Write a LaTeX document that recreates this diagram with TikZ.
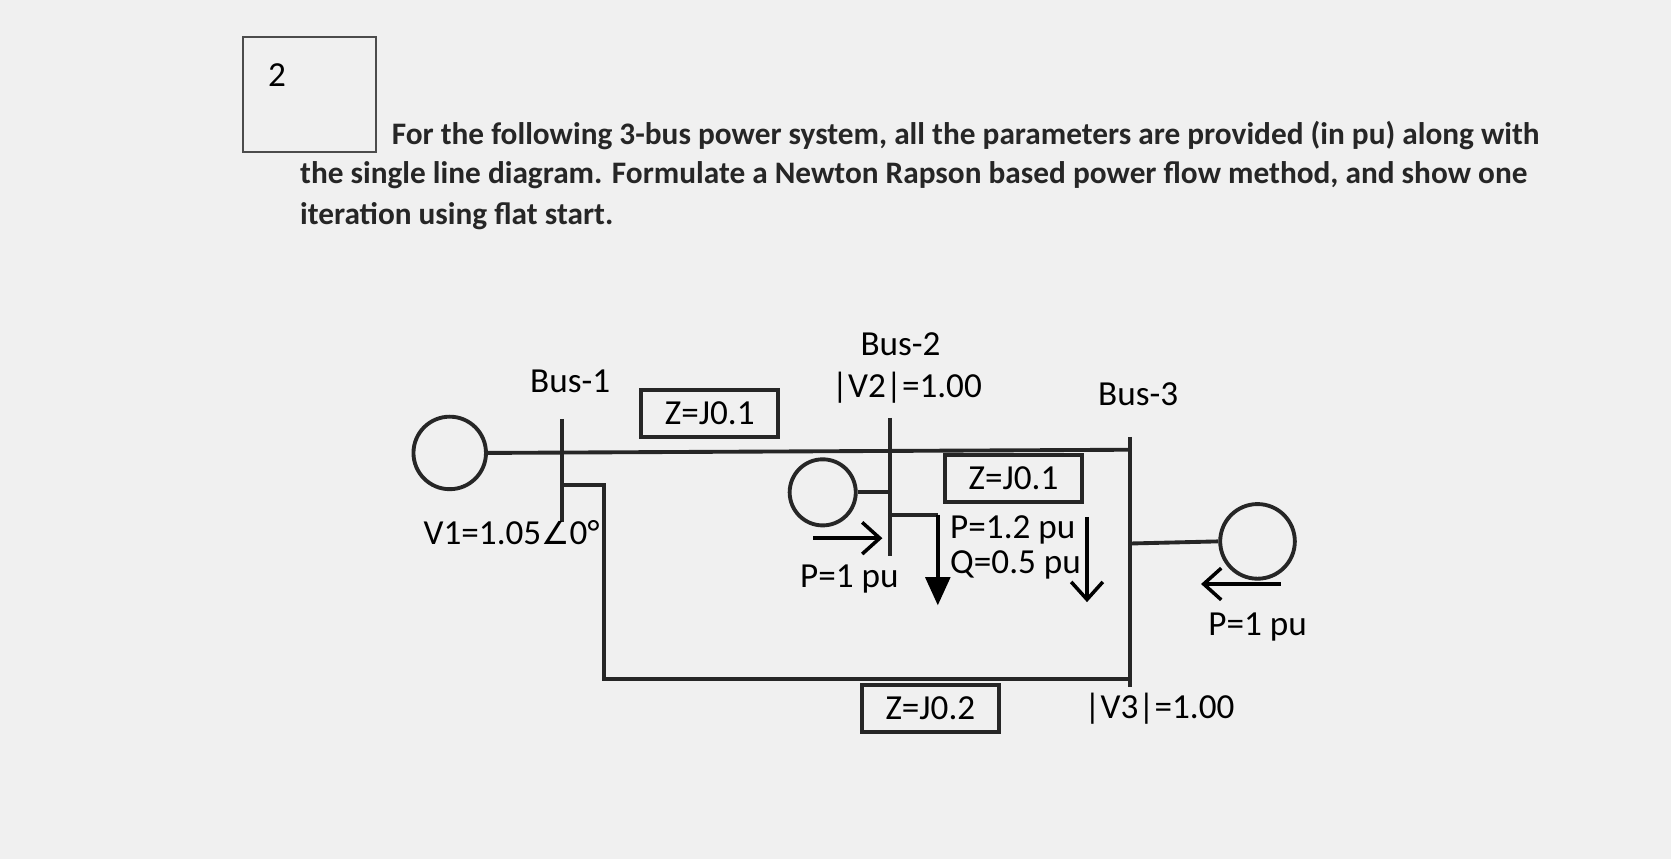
\documentclass[tikz,border=0pt]{standalone}
\usepackage{fontspec}
\setmainfont{Carlito}
\usetikzlibrary{arrows.meta}
\begin{document}
\begin{tikzpicture}[x=0.010657cm,y=-0.010657cm,
  wire/.style={line width=1.1pt,draw=black!85},
  gen/.style={circle,draw=black!85,line width=1.1pt,minimum size=#1*0.021314cm,inner sep=0},
  zbox/.style={draw=black!85,line width=1.1pt,minimum width=1.37cm,minimum height=0.47cm,font=\fontsize{10}{12}\selectfont},
  lbl/.style={font=\fontsize{10}{12}\selectfont,inner sep=0},
  openarr/.style={line width=1pt,-{Straight Barb[length=5pt,width=9pt]}},
  fillarr/.style={line width=1pt,-{Triangle[length=8pt,width=7pt]}}]
\fill[black!6] (0,0) rectangle (1568,806);
\useasboundingbox (0,0) rectangle (1568,806);
% header
\draw[black!70,line width=0.6pt] (228,35) rectangle (353,143);
\node[lbl,font=\fontsize{10}{12}\selectfont] (num) at (260,70) {2};
\node[lbl,anchor=west,font=\bfseries\fontsize{8.9}{11}\selectfont,text=black!85] (t1) at (367,127) {For the following 3-bus power system, all the parameters are provided (in pu) along with};
\node[lbl,anchor=west,font=\bfseries\fontsize{8.9}{11}\selectfont,text=black!85] (t2) at (281,164) {the single line diagram. Formulate a Newton Rapson based power flow method, and show one};
\node[lbl,anchor=west,font=\bfseries\fontsize{8.9}{11}\selectfont,text=black!85] (t3) at (281,203) {iteration using flat start.};
% coordinates
\node[gen=34] (g1) at (422,425) {};
\coordinate (b1t) at (527,393); \coordinate (b1b) at (527,490);
\coordinate (b2t) at (835,392); \coordinate (b2b) at (835,522);
\coordinate (b3t) at (1060,410); \coordinate (b3b) at (1060,645);
\draw[wire] (b1t) -- (b1b);
\draw[wire] (b2t) -- (b2b);
\draw[wire] (b3t) -- (b3b);
\draw[wire] (g1.east) -- (1060,422);
\draw[wire] (527,455) -- (567,455) -- (567,637) -- (1060,637);
% bus 2
\node[gen=31] (g2) at (772,462) {};
\draw[wire] (g2.east) -- (835,462);
\coordinate (ld) at (880,568);
\draw[wire] (835,483) -- (880,483);
\draw[fillarr] (880,483) -- (ld);
\draw[openarr] (763,505) -- (828,505);
\draw[openarr] (1020,485) -- (1020,565);
% bus 3
\node[gen=35] (g3) at (1180,508) {};
\draw[wire] (1060,510) -- (g3.west);
\draw[openarr] (1202,548) -- (1127,548);
% boxes
\node[zbox] (z12) at (666,388) {Z=J0.1};
\node[zbox] (z23) at (951,449) {Z=J0.1};
\node[zbox] (z13) at (873,665) {Z=J0.2};
% labels
\node[lbl] (lb1) at (535,358) {Bus-1};
\node[lbl] (lb2) at (845,323) {Bus-2};
\node[lbl] (lv2) at (851,364) {|V2|=1.00};
\node[lbl] (lb3) at (1068,370) {Bus-3};
\node[lbl] (lv1) at (480,500) {V1=1.05\fontspec{DejaVu Sans}\fontsize{9}{10}\selectfont∠\fontspec{Carlito}\fontsize{10}{12}\selectfont 0°};
\node[lbl] (lp2) at (797,543) {P=1 pu};
\node[lbl,align=left,anchor=west] (lpq) at (891,514) {P=1.2 pu\\[-2pt]Q=0.5 pu};
\node[lbl] (lp3) at (1180,588) {P=1 pu};
\node[lbl] (lv3) at (1088,665) {|V3|=1.00};
\end{tikzpicture}
\end{document}
